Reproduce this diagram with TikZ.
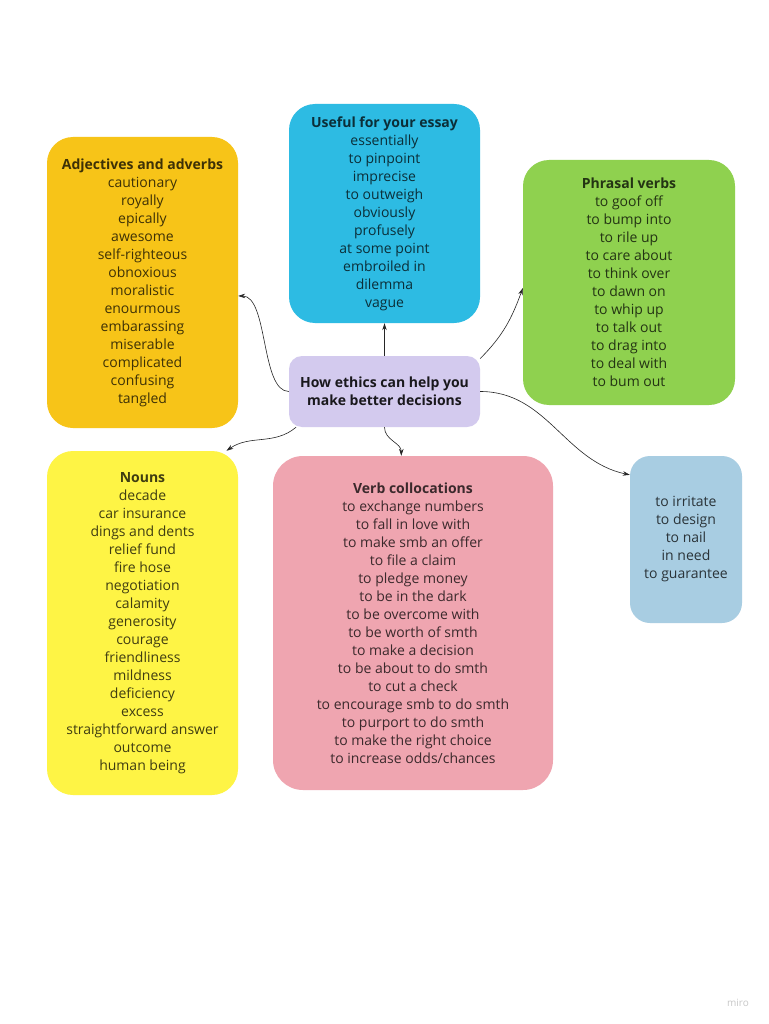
\documentclass[tikz,border=0pt]{standalone}
\usepackage{fontspec}
\setmainfont{Open Sans}
\usepackage{tikz}
\usetikzlibrary{arrows.meta}

\definecolor{adjcol}{HTML}{F7C418}
\definecolor{usecol}{HTML}{2DBBE3}
\definecolor{phrcol}{HTML}{8FD14F}
\definecolor{hubcol}{HTML}{D3CAEE}
\definecolor{nouncol}{HTML}{FEF445}
\definecolor{verbcol}{HTML}{EFA5B0}
\definecolor{needcol}{HTML}{A8CDE2}

\tikzset{
  card/.style={rounded corners=26pt, align=center, inner sep=0pt,
    font=\fontsize{14}{18}\selectfont, text opacity=.75},
  link/.style={-{Stealth[length=7pt,width=4.5pt]}, line width=.6pt, black!85}
}

\begin{document}
\begin{tikzpicture}[x=1pt,y=-1pt]
                    \fill[white] (0,0) rectangle (768,1024);
                    \useasboundingbox (0,0) rectangle (768,1024);
                    % topic in the middle
                    \node[card, rounded corners=13pt, fill=hubcol, minimum width=191pt, minimum height=71pt, text opacity=.88] (hub) at (384.5,391.5) {\textbf{How ethics can help you}\\\textbf{make better decisions}};
                    \node[card, fill=adjcol, minimum width=191pt, minimum height=291pt] (adj) at (142.5,282.5) {\textbf{Adjectives and adverbs}\\cautionary\\royally\\epically\\awesome\\self-righteous\\obnoxious\\moralistic\\enourmous\\embarassing\\miserable\\complicated\\confusing\\tangled};
                    \node[card, fill=usecol, minimum width=191pt, minimum height=219pt] (use) at (384.5,213.5) {\textbf{Useful for your essay}\\essentially\\to pinpoint\\imprecise\\to outweigh\\obviously\\profusely\\at some point\\embroiled in\\dilemma\\vague};
                    \node[card, fill=phrcol, minimum width=212pt, minimum height=245pt] (phr) at (629,282.5) {\textbf{Phrasal verbs}\\to goof off\\to bump into\\to rile up\\to care about\\to think over\\to dawn on\\to whip up\\to talk out\\to drag into\\to deal with\\to bum out};
                    \node[card, fill=nouncol, minimum width=191pt, minimum height=344pt] (noun) at (142.5,623) {\textbf{Nouns}\\decade\\car insurance\\dings and dents\\relief fund\\fire hose\\negotiation\\calamity\\generosity\\courage\\friendliness\\mildness\\deficiency\\excess\\straightforward answer\\outcome\\human being};
                    \node[card, fill=verbcol, rounded corners=30pt, minimum width=280pt, minimum height=334pt] (verb) at (413,623) {\textbf{Verb collocations}\\to exchange numbers\\to fall in love with\\to make smb an offer\\to file a claim\\to pledge money\\to be in the dark\\to be overcome with\\to be worth of smth\\to make a decision\\to be about to do smth\\to cut a check\\to encourage smb to do smth\\to purport to do smth\\to make the right choice\\to increase odds/chances};
                    \node[card, fill=needcol, rounded corners=20pt, minimum width=112pt, minimum height=167pt] (need) at (686,539.5) {to irritate\\to design\\to nail\\in need\\to guarantee};
                    \node[text=black!22, font=\fontsize{10}{11}\selectfont] (miro) at (738,1003) {miro};
                    % connectors
                    \draw[link] (hub.west) .. controls +(-28,0) and +(30,0) .. (adj.-8.6);
                    \draw[link] (hub.north) -- (use.south);
                    \draw[link] (hub.19) to[out=45, in=250] (phr.183);
                    \draw[link] (hub.east) to[out=0, in=168] (need.131);
                    \draw[link] (hub.south) to[out=-90, in=90] (verb.94);
                    \draw[link] (hub.202) to[out=220, in=35] (noun.64);
                \end{tikzpicture}
\end{document}
